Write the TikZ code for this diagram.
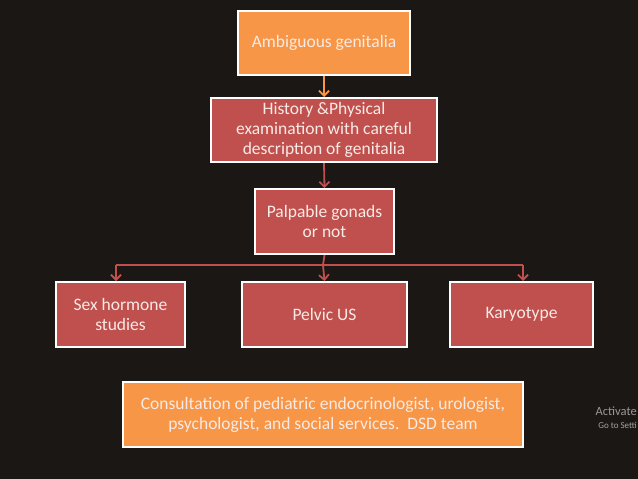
\documentclass[tikz,border=0pt]{standalone}
\usepackage{fontspec}
\setmainfont{Carlito}
\usetikzlibrary{arrows.meta}
\definecolor{bg}{HTML}{1B1714}
\definecolor{orfill}{HTML}{F79646}
\definecolor{rdfill}{HTML}{C0504D}
\definecolor{txt}{HTML}{F8EAE6}
\definecolor{rdline}{HTML}{C0504D}
\definecolor{orline}{HTML}{F79646}
\tikzset{
  box/.style={draw=white, line width=2pt, text=txt, align=center, anchor=north west,
    inner sep=0pt, font=\fontsize{17.5}{20}\selectfont},
  obox/.style={box, fill=orfill},
  rbox/.style={box, fill=rdfill},
  conn/.style={line width=1.8pt, -{Straight Barb[length=5pt,width=10pt]}},
}
\begin{document}
\begin{tikzpicture}[x=1pt,y=-1pt]
\fill[bg] (0,0) rectangle (638,479);
\useasboundingbox (0,0) rectangle (638,479);
\node[obox, minimum width=172pt, minimum height=64pt] (amb) at (237,10) {Ambiguous genitalia};
\node[rbox, minimum width=226pt, minimum height=64pt] (hist) at (210,97) {History \&Physical\\examination with careful\\description of genitalia};
\node[rbox, minimum width=139pt, minimum height=65pt] (palp) at (254,188) {Palpable gonads\\or not};
\node[rbox, minimum width=129pt, minimum height=65pt] (sex) at (55,281) {Sex hormone\\studies};
\node[rbox, minimum width=165pt, minimum height=65pt] (pelv) at (241,281) {Pelvic US};
\node[rbox, minimum width=143pt, minimum height=65pt] (kary) at (449,281) {Karyotype};
\node[obox, minimum width=400pt, minimum height=65pt] (cons) at (122,381) {Consultation of pediatric endocrinologist, urologist,\\psychologist, and social services.\ \ DSD team};
\coordinate (hl) at (116,265);
\coordinate (hr) at (523,265);
\coordinate (hm) at (323,265);
\draw[conn, draw=orline] (amb.south) -- (hist.north);
\draw[conn, draw=rdline] (hist.south) -- (palp.north);
\draw[line width=1.8pt, draw=rdline] (palp.south) -- (hm);
\draw[line width=1.8pt, draw=rdline] (hl) -- (hr);
\draw[conn, draw=rdline] (hl) -- (hl |- sex.north);
\draw[conn, draw=rdline] (hm) -- (pelv.north);
\draw[conn, draw=rdline] (hr) -- (hr |- kary.north);
\node[anchor=north east, text=gray!80, inner sep=0pt, font=\fontsize{12.5}{12}\selectfont] (act) at (637,407) {Activate};
\node[anchor=north east, text=gray!70, inner sep=0pt, font=\fontsize{9}{9}\selectfont] (goto) at (637,422) {Go to Setti};
\end{tikzpicture}
\end{document}
